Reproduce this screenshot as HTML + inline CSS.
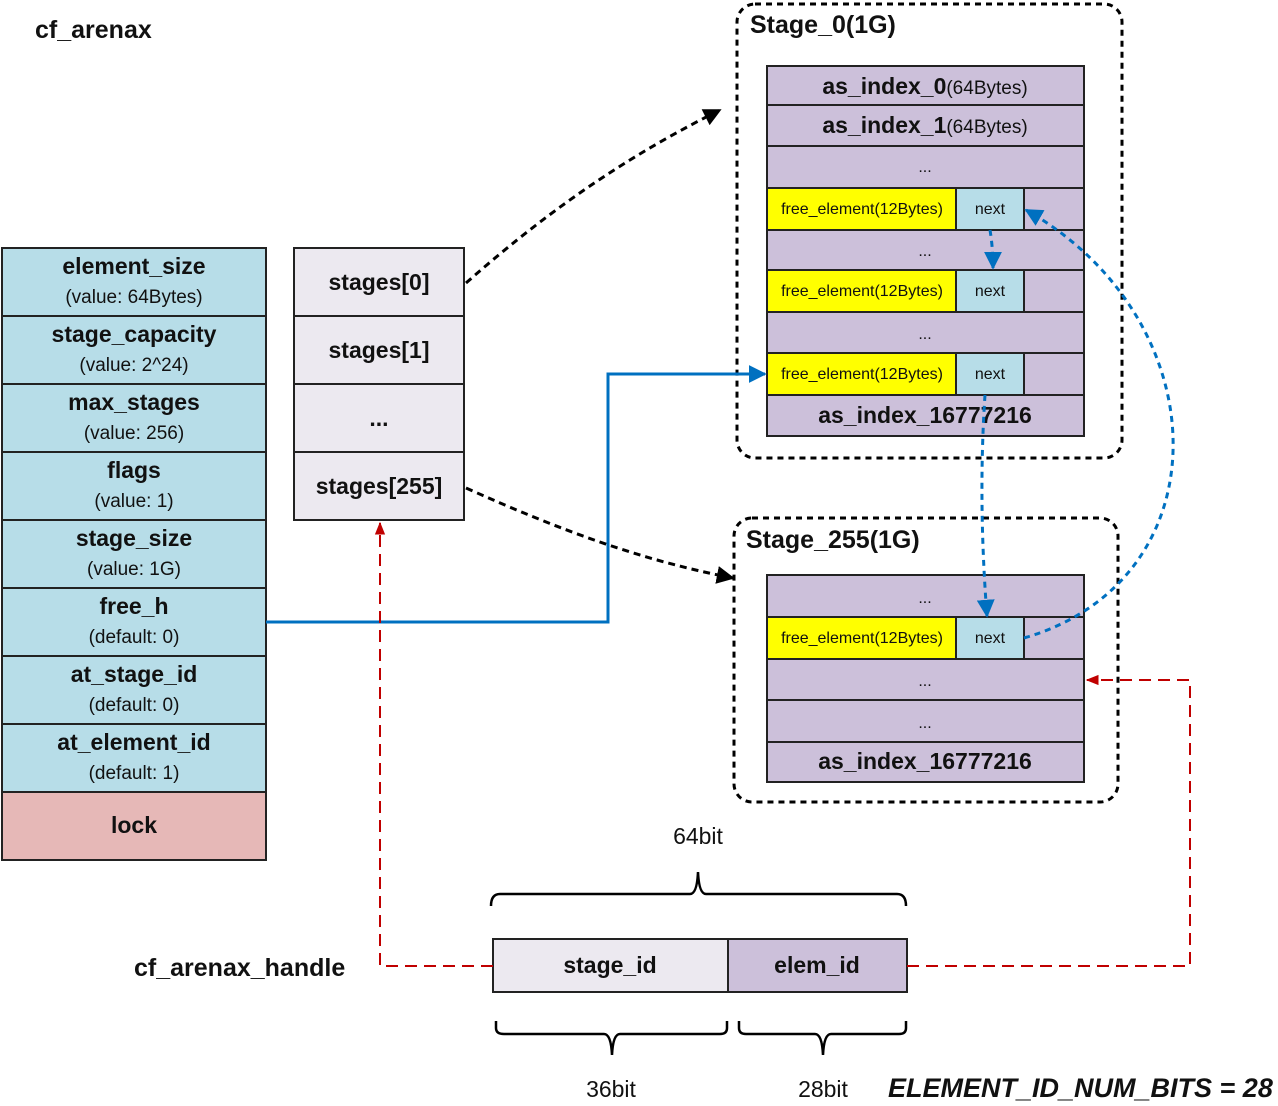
<!DOCTYPE html>
<html><head><meta charset="utf-8"><style>
body{margin:0;background:#fff}
svg{display:block}
text{font-family:"Liberation Sans",sans-serif;fill:#111}
.b{font-weight:bold;font-size:23px}
.n{font-size:19px}
.s{font-size:16px}
</style></head><body>
<svg width="1278" height="1106" viewBox="0 0 1278 1106" xmlns="http://www.w3.org/2000/svg">
<defs>
<marker id="ak" viewBox="0 0 10 10" refX="9" refY="5" markerWidth="18" markerHeight="18" markerUnits="userSpaceOnUse" orient="auto"><path d="M0,0L10,5L0,10z" fill="#000"/></marker>
<marker id="ab" viewBox="0 0 10 10" refX="9" refY="5" markerWidth="18" markerHeight="18" orient="auto" markerUnits="userSpaceOnUse"><path d="M0,0L10,5L0,10z" fill="#0070c0"/></marker>
<marker id="ar" viewBox="0 0 10 10" refX="9" refY="5" markerWidth="13" markerHeight="13" orient="auto" markerUnits="userSpaceOnUse"><path d="M0,1L10,5L0,9z" fill="#c00000"/></marker>
</defs>
<text x="35" y="38" class="b" style="font-size:25px">cf_arenax</text>

<g stroke="#222" stroke-width="2">
<rect x="2" y="248" width="264" height="544" fill="#b7dde8"/>
<rect x="2" y="792" width="264" height="68" fill="#e6b8b7"/>
<path d="M2 316H266M2 384H266M2 452H266M2 520H266M2 588H266M2 656H266M2 724H266"/>
</g>
<g text-anchor="middle">
<text x="134" y="274" class="b">element_size</text><text x="134" y="303" class="n">(value: 64Bytes)</text>
<text x="134" y="342" class="b">stage_capacity</text><text x="134" y="371" class="n">(value: 2^24)</text>
<text x="134" y="410" class="b">max_stages</text><text x="134" y="439" class="n">(value: 256)</text>
<text x="134" y="478" class="b">flags</text><text x="134" y="507" class="n">(value: 1)</text>
<text x="134" y="546" class="b">stage_size</text><text x="134" y="575" class="n">(value: 1G)</text>
<text x="134" y="614" class="b">free_h</text><text x="134" y="643" class="n">(default: 0)</text>
<text x="134" y="682" class="b">at_stage_id</text><text x="134" y="711" class="n">(default: 0)</text>
<text x="134" y="750" class="b">at_element_id</text><text x="134" y="779" class="n">(default: 1)</text>
<text x="134" y="833" class="b">lock</text>
</g>

<g stroke="#222" stroke-width="2">
<rect x="294" y="248" width="170" height="272" fill="#ece9f0"/>
<path d="M294 316H464M294 384H464M294 452H464"/>
</g>
<g text-anchor="middle" class="b">
<text x="379" y="290">stages[0]</text>
<text x="379" y="358">stages[1]</text>
<text x="379" y="426">...</text>
<text x="379" y="494">stages[255]</text>
</g>

<rect x="737" y="4" width="385" height="454" rx="18" fill="none" stroke="#000" stroke-width="3" stroke-dasharray="6,5"/>
<text x="750" y="33" class="b" style="font-size:25px">Stage_0(1G)</text>
<g stroke="#222" stroke-width="2">
<rect x="767" y="66" width="317" height="370" fill="#ccc0da"/>
<path d="M767 105H1084M767 146H1084M767 188H1084M767 230H1084M767 270H1084M767 312H1084M767 353H1084M767 395H1084"/>
<rect x="767" y="188" width="189" height="42" fill="#ffff00"/><rect x="956" y="188" width="68" height="42" fill="#b7dde8"/>
<rect x="767" y="270" width="189" height="42" fill="#ffff00"/><rect x="956" y="270" width="68" height="42" fill="#b7dde8"/>
<rect x="767" y="353" width="189" height="42" fill="#ffff00"/><rect x="956" y="353" width="68" height="42" fill="#b7dde8"/>
</g>
<g text-anchor="middle">
<text x="925" y="94" class="b">as_index_0<tspan font-weight="normal" font-size="19">(64Bytes)</tspan></text>
<text x="925" y="133" class="b">as_index_1<tspan font-weight="normal" font-size="19">(64Bytes)</tspan></text>
<text x="925" y="172" class="s">...</text>
<text x="862" y="214" class="s">free_element(12Bytes)</text><text x="990" y="214" class="s">next</text>
<text x="925" y="256" class="s">...</text>
<text x="862" y="296" class="s">free_element(12Bytes)</text><text x="990" y="296" class="s">next</text>
<text x="925" y="339" class="s">...</text>
<text x="862" y="379" class="s">free_element(12Bytes)</text><text x="990" y="379" class="s">next</text>
<text x="925" y="423" class="b">as_index_16777216</text>
</g>

<rect x="734" y="518" width="384" height="284" rx="18" fill="none" stroke="#000" stroke-width="3" stroke-dasharray="6,5"/>
<text x="746" y="548" class="b" style="font-size:25px">Stage_255(1G)</text>
<g stroke="#222" stroke-width="2">
<rect x="767" y="575" width="317" height="207" fill="#ccc0da"/>
<path d="M767 617H1084M767 659H1084M767 700H1084M767 742H1084"/>
<rect x="767" y="617" width="189" height="42" fill="#ffff00"/><rect x="956" y="617" width="68" height="42" fill="#b7dde8"/>
</g>
<g text-anchor="middle">
<text x="925" y="603" class="s">...</text>
<text x="862" y="643" class="s">free_element(12Bytes)</text><text x="990" y="643" class="s">next</text>
<text x="925" y="686" class="s">...</text>
<text x="925" y="728" class="s">...</text>
<text x="925" y="769" class="b">as_index_16777216</text>
</g>

<path d="M466 283 C560 200 640 150 720 110" fill="none" stroke="#000" stroke-width="3" stroke-dasharray="7,5" marker-end="url(#ak)"/>
<path d="M466 488 C560 530 640 560 733 578" fill="none" stroke="#000" stroke-width="3" stroke-dasharray="7,5" marker-end="url(#ak)"/>

<path d="M266 622H608V374H765" fill="none" stroke="#0070c0" stroke-width="3" marker-end="url(#ab)"/>

<g fill="none" stroke="#0070c0" stroke-width="3" stroke-dasharray="6,5">
<path d="M990 230 Q993 248 993 268" marker-end="url(#ab)"/>
<path d="M985 395 Q978 500 987 616" marker-end="url(#ab)"/>
<path d="M1024 638 C1225 580 1220 320 1026 210" marker-end="url(#ab)"/>
</g>

<text x="134" y="976" class="b" style="font-size:25px">cf_arenax_handle</text>
<g stroke="#222" stroke-width="2">
<rect x="493" y="939" width="235" height="53" fill="#ece9f0"/>
<rect x="728" y="939" width="179" height="53" fill="#ccc0da"/>
</g>
<text x="610" y="973" text-anchor="middle" class="b">stage_id</text>
<text x="817" y="973" text-anchor="middle" class="b">elem_id</text>

<g fill="none" stroke="#c00000" stroke-width="2" stroke-dasharray="12,7">
<path d="M493 966H380V523" marker-end="url(#ar)"/>
<path d="M907 966H1190V680H1087" marker-end="url(#ar)"/>
</g>

<g fill="none" stroke="#000" stroke-width="2.5">
<path d="M491 906 Q491 894 500 894 H690 Q697 894 698 872 Q699 894 706 894 H897 Q906 894 906 906"/>
<path d="M496 1021 V1028 Q496 1034 504 1034 H604 Q611 1034 612 1055 Q613 1034 620 1034 H720 Q727 1034 727 1028 V1021"/>
<path d="M739 1021 V1028 Q739 1034 746 1034 H815 Q822 1034 823 1055 Q824 1034 831 1034 H899 Q906 1034 906 1028 V1021"/>
</g>
<text x="698" y="844" text-anchor="middle" class="n" style="font-size:23px">64bit</text>
<text x="611" y="1097" text-anchor="middle" class="n" style="font-size:23px">36bit</text>
<text x="823" y="1097" text-anchor="middle" class="n" style="font-size:23px">28bit</text>
<text x="888" y="1097" class="b" style="font-style:italic;font-size:27px">ELEMENT_ID_NUM_BITS = 28</text>
</svg>
</body></html>
